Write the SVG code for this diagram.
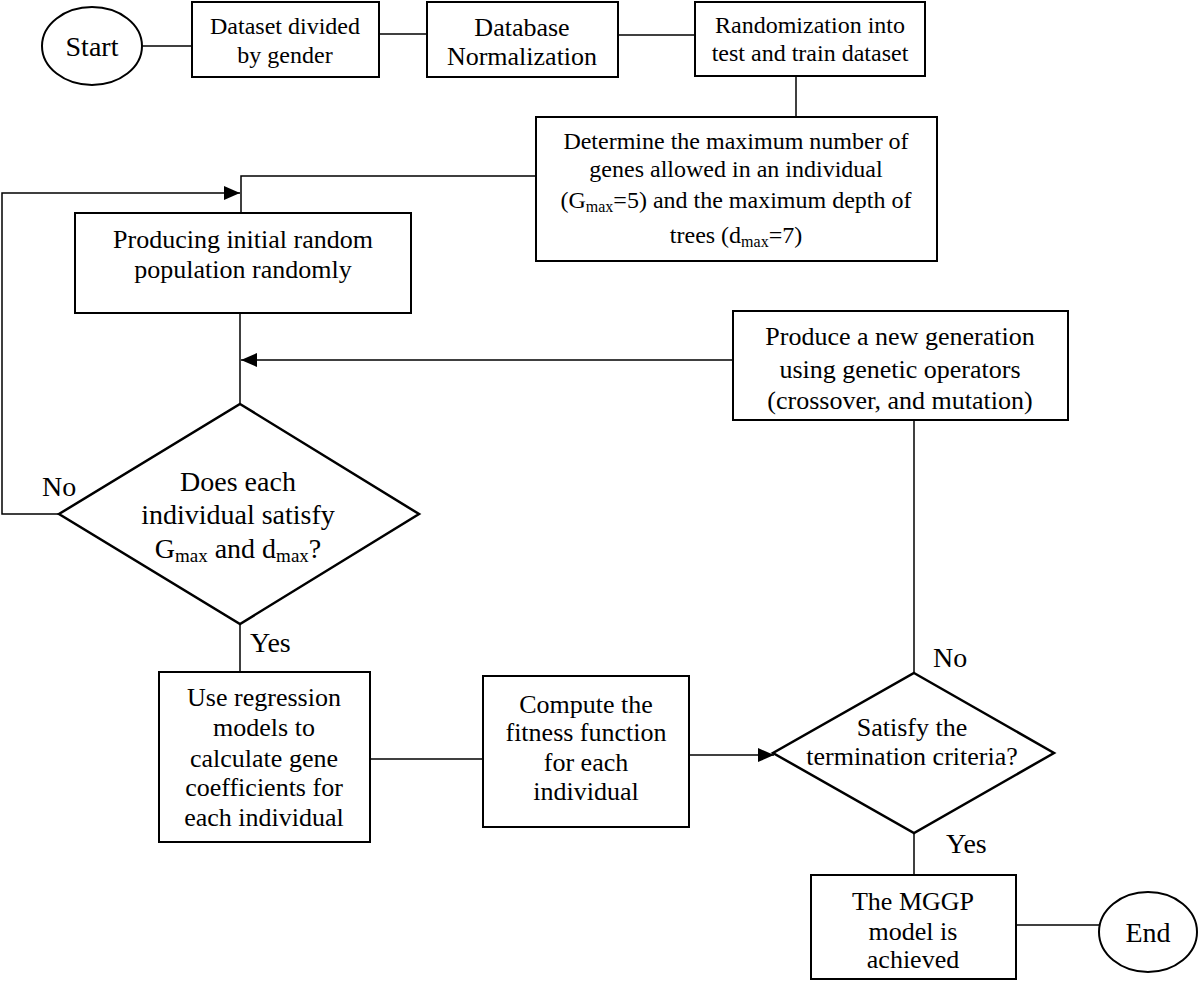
<svg xmlns="http://www.w3.org/2000/svg" width="1200" height="981" viewBox="0 0 1200 981">
<style>
text{font-family:"Liberation Serif","Times New Roman",serif;fill:#000;text-anchor:middle}
.box{fill:#fff;stroke:#000;stroke-width:2}
.dia{fill:#fff;stroke:#000;stroke-width:2.5}
.con{fill:none;stroke:#000;stroke-width:1.5}
.f24{font-size:24px}.f26{font-size:26px}.f28{font-size:28px}
.lbl{font-size:28px;text-anchor:start}
</style>
<defs>
<marker id="arr" markerUnits="userSpaceOnUse" markerWidth="16" markerHeight="14" refX="16" refY="7" orient="auto">
<path d="M0,0 L16,7 L0,14 z" fill="#000"/>
</marker>
</defs>
<rect width="1200" height="981" fill="#fff"/>
<g id="connectors">
<line class="con" x1="142" y1="46" x2="192" y2="46"/>
<line class="con" x1="379" y1="34" x2="427" y2="34"/>
<line class="con" x1="618" y1="35" x2="695" y2="35"/>
<line class="con" x1="796" y1="76" x2="796" y2="117"/>
<polyline class="con" points="536,176 241,176 241,213"/>
<polyline class="con" points="59,514 2,514 2,193 240,193" marker-end="url(#arr)"/>
<line class="con" x1="240" y1="313" x2="240" y2="404"/>
<line class="con" x1="733" y1="360" x2="241" y2="360" marker-end="url(#arr)"/>
<line class="con" x1="240" y1="624" x2="240" y2="672"/>
<line class="con" x1="370" y1="759" x2="483" y2="759"/>
<line class="con" x1="689" y1="755" x2="774" y2="755" marker-end="url(#arr)"/>
<line class="con" x1="914" y1="673" x2="914" y2="420"/>
<line class="con" x1="914" y1="833" x2="914" y2="875"/>
<line class="con" x1="1016" y1="925" x2="1099" y2="925"/>
<text class="lbl" x="42" y="496">No</text>
<text class="lbl" x="250" y="652">Yes</text>
<text class="lbl" x="933" y="667">No</text>
<text class="lbl" x="946" y="853">Yes</text>
</g>
<g id="start">
<ellipse class="box" cx="92" cy="46" rx="50" ry="39"/>
<text class="f28" x="92" y="56">Start</text>
</g>
<g id="dataset">
<rect class="box" x="192" y="2" width="187" height="75"/>
<text class="f24" x="285" y="34">Dataset divided</text>
<text class="f24" x="285" y="63">by gender</text>
</g>
<g id="database">
<rect class="box" x="427" y="2" width="191" height="75"/>
<text class="f26" x="522" y="36">Database</text>
<text class="f26" x="522" y="65">Normalization</text>
</g>
<g id="randomization">
<rect class="box" x="695" y="2" width="230" height="74"/>
<text class="f24" x="810" y="33">Randomization into</text>
<text class="f24" x="810" y="61">test and train dataset</text>
</g>
<g id="determine">
<rect class="box" x="536" y="117" width="401" height="144"/>
<text class="f24" x="736" y="149">Determine the maximum number of</text>
<text class="f24" x="736" y="177">genes allowed in an individual</text>
<text class="f24" x="736" y="208">(G<tspan font-size="16" dy="4">max</tspan><tspan dy="-4">=5) and the maximum depth of</tspan></text>
<text class="f24" x="736" y="243">trees (d<tspan font-size="16" dy="4">max</tspan><tspan dy="-4">=7)</tspan></text>
</g>
<g id="producing">
<rect class="box" x="75" y="213" width="336" height="100"/>
<text class="f26" x="243" y="248">Producing initial random</text>
<text class="f26" x="243" y="278">population randomly</text>
</g>
<g id="produce">
<rect class="box" x="733" y="311" width="335" height="109"/>
<text class="f26" x="900" y="345">Produce a new generation</text>
<text class="f26" x="900" y="378">using genetic operators</text>
<text class="f26" x="900" y="409">(crossover, and mutation)</text>
</g>
<g id="check">
<polygon class="dia" points="240,404 419,514 240,624 59,514"/>
<text class="f28" x="238" y="491">Does each</text>
<text class="f28" x="238" y="524">individual satisfy</text>
<text class="f28" x="238" y="558">G<tspan font-size="19" dy="4">max</tspan><tspan dy="-4"> and d</tspan><tspan font-size="19" dy="4">max</tspan><tspan dy="-4">?</tspan></text>
</g>
<g id="regression">
<rect class="box" x="159" y="672" width="211" height="170"/>
<text class="f26" x="264" y="706">Use regression</text>
<text class="f26" x="264" y="736">models to</text>
<text class="f26" x="264" y="767">calculate gene</text>
<text class="f26" x="264" y="796">coefficients for</text>
<text class="f26" x="264" y="826">each individual</text>
</g>
<g id="fitness">
<rect class="box" x="483" y="676" width="206" height="151"/>
<text class="f26" x="586" y="713">Compute the</text>
<text class="f26" x="586" y="741">fitness function</text>
<text class="f26" x="586" y="771">for each</text>
<text class="f26" x="586" y="800">individual</text>
</g>
<g id="termination">
<polygon class="dia" points="914,673 1054,753 914,833 773,753"/>
<text class="f26" x="912" y="736">Satisfy the</text>
<text class="f26" x="912" y="765">termination criteria?</text>
</g>
<g id="mggp">
<rect class="box" x="811" y="875" width="205" height="104"/>
<text class="f26" x="913" y="910">The MGGP</text>
<text class="f26" x="913" y="940">model is</text>
<text class="f26" x="913" y="968">achieved</text>
</g>
<g id="end">
<ellipse class="box" cx="1148" cy="932" rx="49" ry="40"/>
<text class="f28" x="1148" y="942">End</text>
</g>
</svg>
